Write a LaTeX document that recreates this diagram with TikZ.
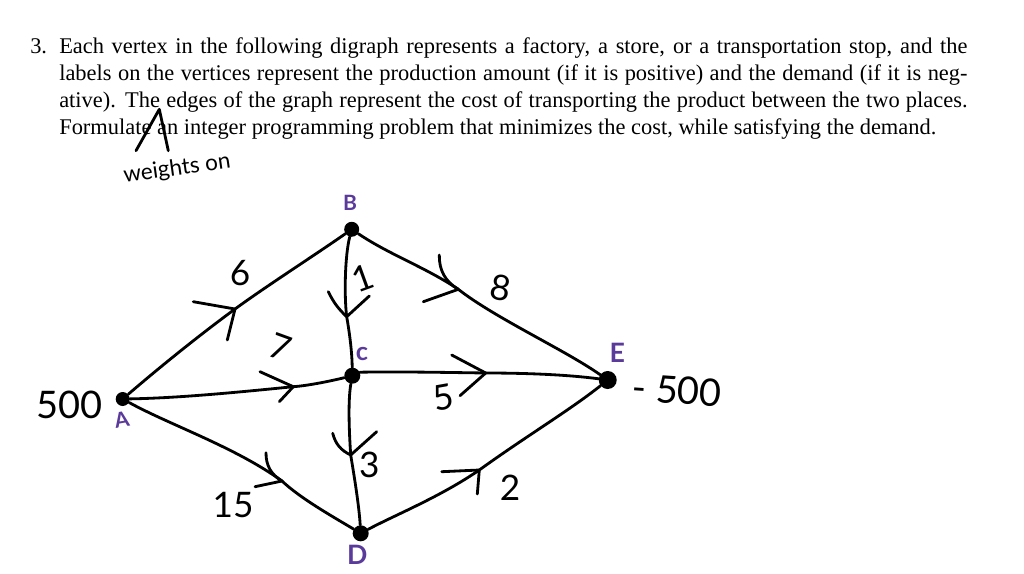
\documentclass[tikz,border=0pt]{standalone}
\usepackage{fontspec}
\setmainfont{Liberation Serif}
\newfontfamily\handfont{Lato}
\definecolor{inkpurple}{HTML}{5A3A9A}
\tikzset{
  hand/.style={line width=2pt, line cap=round, line join=round},
  vertex/.style={circle, fill=black, inner sep=0pt, minimum size=0.375cm},
  vname/.style={text=inkpurple, font=\handfont\bfseries\fontsize{15}{15}\selectfont, inner sep=0pt},
  wlabel/.style={font=\handfont\fontsize{25}{25}\selectfont, inner sep=0pt},
  x=0.025cm, y=-0.025cm
}
\begin{document}
\begin{tikzpicture}
\useasboundingbox (0,0) rectangle (1024,573);
% question text
\node (num) [anchor=base west, inner sep=0pt, font=\fontsize{15.95}{19.4}\selectfont] at (30,53.3) {3.};
\node (question) [anchor=north west, inner sep=0pt, text width=22.7cm, align=justify, font=\fontsize{15.95}{19.4}\selectfont] at (59,37)
{Each vertex in the following digraph represents a factory, a store, or a transportation stop, and the\linebreak
labels on the vertices represent the production amount (if it is positive) and the demand (if it is neg-\linebreak
ative). The edges of the graph represent the cost of transporting the product between the two places.\linebreak
Formulate an integer programming problem that minimizes the cost, while satisfying the demand.};
% insertion mark
\coordinate (caretL) at (136,150.7);
\coordinate (caretT) at (159.3,109.3);
\coordinate (caretR) at (168.3,150.7);
\draw[hand] (caretL) -- (caretT) -- (caretR);
\node (weights) [rotate=8, inner sep=0pt, font=\handfont\fontsize{16}{16}\selectfont] at (177,169) {weights on};
% vertices
\node (A) [vertex, minimum size=0.35cm] at (122.7,399) {};
\node (B) [vertex] at (351.7,229.3) {};
\node (C) [vertex, minimum size=0.4cm] at (352.3,375.7) {};
\node (D) [vertex, minimum size=0.4cm] at (360.7,533.3) {};
\node (E) [vertex, minimum size=0.45cm] at (607.7,380) {};
\node (nameA) [vname, rotate=10] at (121.7,419.3) {A};
\node (nameB) [vname] at (350,203) {B};
\node (nameC) [vname, font=\handfont\bfseries\fontsize{18}{18}\selectfont] at (362,354) {c};
\node (nameD) [vname, font=\handfont\bfseries\fontsize{19}{19}\selectfont] at (357.3,555) {D};
\node (nameE) [vname, font=\handfont\bfseries\fontsize{19}{19}\selectfont] at (617.3,352.7) {E};
% arrow tips
\coordinate (tipAB) at (235,309);
\coordinate (tipAC) at (293.3,386.7);
\coordinate (tipAD) at (282,481);
\coordinate (tipBC) at (346.7,316.7);
\coordinate (tipBE) at (458.3,289.3);
\coordinate (tipCD) at (350.7,455);
\coordinate (tipCE) at (485.7,373);
\coordinate (tipDE) at (479.3,470);
% edges
\draw[hand] (A) .. controls (160,367) and (197,337) .. (tipAB) .. controls (268,285) and (315,255) .. (B);
\draw[hand] (A) .. controls (180,398) and (240,392) .. (tipAC) .. controls (310,385.5) and (335,380) .. (C);
\draw[hand] (A) .. controls (170,425) and (235,447) .. (tipAD) .. controls (300,498) and (330,515) .. (D);
\draw[hand] (B) .. controls (345,255) and (344,295) .. (tipBC) .. controls (349,330) and (352,350) .. (C);
\draw[hand] (B) .. controls (390,255) and (425,267) .. (tipBE) .. controls (495,318) and (565,350) .. (E);
\draw[hand] (C) .. controls (348,400) and (349,430) .. (tipCD) .. controls (354,475) and (359,505) .. (D);
\draw[hand] (C.25) .. controls (400,371.5) and (450,372.5) .. (tipCE) .. controls (530,373) and (570,375) .. (E);
\draw[hand] (D) .. controls (395,515) and (440,497) .. (tipDE) .. controls (525,437) and (570,410) .. (E);
% arrow heads
\foreach \tip/\ax/\ay/\bx/\by/\curve in {tipAB/193.3/301.7/227.3/340/0,
    tipAC/260/371.7/279.3/401.7/0, tipAD/266/452.7/255/486.7/30,
    tipBC/328.3/291.7/369.3/296/10, tipBE/439.3/255/423.3/301.7/30,
    tipCD/332.7/433.3/376.7/431.7/25, tipCE/451.7/355/460/395.7/0,
    tipDE/441.7/471.7/477.3/494/0}
  \draw[hand] (\ax,\ay) to[bend right=\curve] (\tip) -- (\bx,\by);
% costs and supplies
\node (costAB) [wlabel] at (240,272.7) {6};
\node (costAC) [wlabel, rotate=-20] at (280,346.7) {7};
\node (costAD) [wlabel] at (233,505) {15};
\node (costBC) [wlabel, rotate=20] at (362.7,278) {1};
\node (costBE) [wlabel, rotate=-10] at (500.7,288) {8};
\node (costCD) [wlabel] at (369.3,465) {3};
\node (costCE) [wlabel, rotate=10] at (443.3,397) {5};
\node (costDE) [wlabel] at (510,488) {2};
\node (supply) [wlabel, font=\handfont\fontsize{27}{27}\selectfont] at (69.3,405) {500};
\node (demand) [wlabel, rotate=-4, font=\handfont\fontsize{27}{27}\selectfont] at (677,390) {- 500};
\end{tikzpicture}
\end{document}
